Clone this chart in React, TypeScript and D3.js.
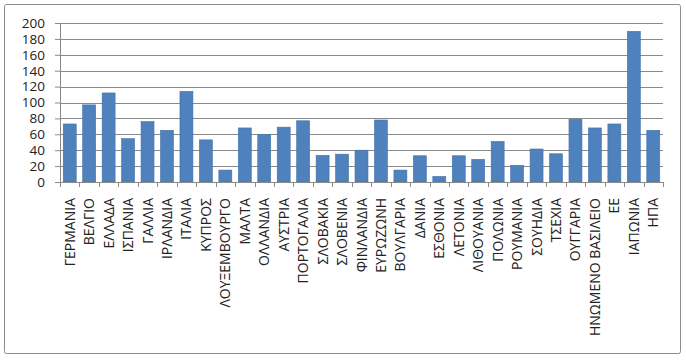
import React, { useEffect, useRef } from "react";
import * as d3 from "d3";

// countries / aggregates as they appear on the x axis
const categories = [
  "ΓΕΡΜΑΝΙΑ", "ΒΕΛΓΙΟ", "ΕΛΛΑΔΑ", "ΙΣΠΑΝΙΑ", "ΓΑΛΛΙΑ", "ΙΡΛΑΝΔΙΑ", "ΙΤΑΛΙΑ",
  "ΚΥΠΡΟΣ", "ΛΟΥΞΕΜΒΟΥΡΓΟ", "ΜΑΛΤΑ", "ΟΛΛΑΝΔΙΑ", "ΑΥΣΤΡΙΑ", "ΠΟΡΤΟΓΑΛΙΑ",
  "ΣΛΟΒΑΚΙΑ", "ΣΛΟΒΕΝΙΑ", "ΦΙΝΛΑΝΔΙΑ", "ΕΥΡΩΖΩΝΗ", "ΒΟΥΛΓΑΡΙΑ", "ΔΑΝΙΑ",
  "ΕΣΘΟΝΙΑ", "ΛΕΤΟΝΙΑ", "ΛΙΘΟΥΑΝΙΑ", "ΠΟΛΩΝΙΑ", "ΡΟΥΜΑΝΙΑ", "ΣΟΥΗΔΙΑ",
  "ΤΣΕΧΙΑ", "ΟΥΓΓΑΡΙΑ", "ΗΝΩΜΕΝΟ ΒΑΣΙΛΕΙΟ", "ΕΕ", "ΙΑΠΩΝΙΑ", "ΗΠΑ",
];

const values = [
  73, 97, 112, 54.5, 76, 65, 114,
  53, 15, 68, 60, 69, 77,
  33.5, 35, 40, 78, 15, 33,
  7, 33, 28.5, 51, 21, 41.5,
  35.5, 79, 68, 73, 189.5, 65,
];

const yTicks = [0, 20, 40, 60, 80, 100, 120, 140, 160, 180, 200];

const W = 686;
const H = 361;
const margin = { top: 23, right: 23, bottom: 179, left: 60 };

export default function App() {
  const ref = useRef<SVGSVGElement>(null);

  useEffect(() => {
    const svg = d3.select(ref.current);
    svg.selectAll("*").remove();

    const width = W - margin.left - margin.right;
    const height = H - margin.top - margin.bottom;
    const font = "'Open Sans', 'DejaVu Sans', sans-serif";

    // outer chart frame
    svg.append("rect")
      .attr("x", 4.5).attr("y", 4.5)
      .attr("width", 676).attr("height", 349)
      .attr("rx", 2)
      .attr("fill", "#fff")
      .attr("stroke", "#8c8c8c");

    const g = svg.append("g")
      .attr("transform", "translate(" + margin.left + "," + margin.top + ")");

    const x = d3.scaleBand<string>()
      .domain(categories)
      .range([0, width])
      .paddingInner(1 / 3)
      .paddingOuter(1 / 6);
    const y = d3.scaleLinear().domain([0, 200]).range([height, 0]);

    // gridlines
    g.selectAll(".grid")
      .data(yTicks.filter(d => d > 0))
      .enter().append("line")
      .attr("x1", 0).attr("x2", width)
      .attr("y1", d => Math.round(y(d)) + 0.5)
      .attr("y2", d => Math.round(y(d)) + 0.5)
      .attr("stroke", "#8a8a8a");

    // bars
    g.selectAll(".bar")
      .data(values)
      .enter().append("rect")
      .attr("x", (d, i) => x(categories[i]) as number)
      .attr("y", d => y(d))
      .attr("width", x.bandwidth())
      .attr("height", d => height - y(d))
      .attr("fill", "#4f81bd")
      .attr("stroke", "#4372ab")
      .attr("stroke-width", 0.6);

    // y axis
    const yAxis = g.append("g")
      .call(d3.axisLeft(y).tickValues(yTicks).tickSize(5).tickPadding(10));
    yAxis.select(".domain").attr("stroke", "#8a8a8a").attr("d", "M0.5," + height + "V0");
    yAxis.selectAll(".tick line").attr("stroke", "#8a8a8a");
    yAxis.selectAll("text")
      .attr("font-family", font)
      .attr("font-size", 13.5)
      .attr("fill", "#222");

    // x axis with ticks between categories
    const step = x.step();
    const x0 = x(categories[0]) as number - step * x.paddingInner() / 2;
    const bounds = d3.range(categories.length + 1).map(i => x0 + i * step);
    const xAxis = g.append("g").attr("transform", "translate(0," + height + ")");
    xAxis.append("line")
      .attr("x1", 0).attr("x2", width)
      .attr("y1", 0.5).attr("y2", 0.5)
      .attr("stroke", "#8a8a8a");
    xAxis.selectAll(".xtick")
      .data(bounds)
      .enter().append("line")
      .attr("x1", d => Math.round(d) + 0.5).attr("x2", d => Math.round(d) + 0.5)
      .attr("y1", 0).attr("y2", 5)
      .attr("stroke", "#8a8a8a");
    xAxis.selectAll(".xlabel")
      .data(categories)
      .enter().append("text")
      .attr("transform", d => "translate(" + ((x(d) as number) + x.bandwidth() / 2 + 5) + ",16) rotate(-90)")
      .attr("text-anchor", "end")
      .attr("font-family", font)
      .attr("font-size", 14)
      .attr("fill", "#222")
      .text(d => d);
  }, []);

  return (
    <svg ref={ref} width={W} height={H}
      style={{ position: "absolute", left: 0, top: 0, background: "#fff" }} />
  );
}
